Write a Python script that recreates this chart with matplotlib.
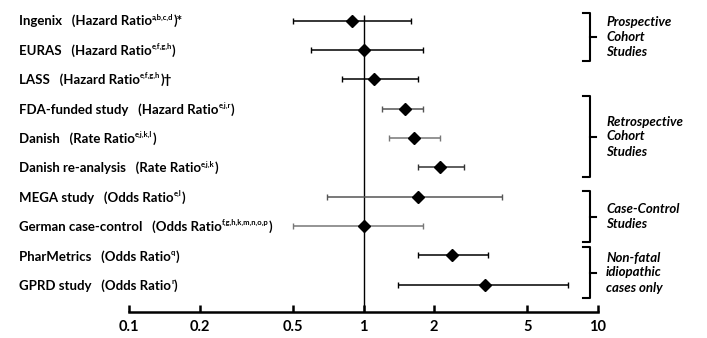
import matplotlib
matplotlib.use('Agg')
import matplotlib.pyplot as plt
from matplotlib.lines import Line2D

plt.rcParams['font.family'] = ['Lato', 'DejaVu Sans']

# study rows, top to bottom
names = ['Ingenix', 'EURAS', 'LASS', 'FDA-funded study', 'Danish',
         'Danish re-analysis', 'MEGA study', 'German case-control',
         'PharMetrics', 'GPRD study']
measures = ['Hazard Ratio', 'Hazard Ratio', 'Hazard Ratio', 'Hazard Ratio',
            'Rate Ratio', 'Rate Ratio', 'Odds Ratio', 'Odds Ratio',
            'Odds Ratio', 'Odds Ratio']
refs = ['a,b,c,d', 'e,f,g,h', 'e,f,g,h', 'e,j,r', 'e,j,k,l', 'e,j,k',
        'e,l', 'f,g,h,k,m,n,o,p', 'q', 'r']
tails = [')*', ')', ')\u2020', ')', ')', ')', ')', ')', ')', ')']

est = [0.89, 1.00, 1.11, 1.51, 1.65, 2.11, 1.70, 1.00, 2.39, 3.31]
lo = [0.50, 0.60, 0.81, 1.20, 1.28, 1.70, 0.70, 0.50, 1.71, 1.41]
hi = [1.60, 1.80, 1.71, 1.80, 2.11, 2.67, 3.91, 1.80, 3.38, 7.47]
bar_colors = ['black', 'black', 'black', '#555555', '#777777', '#333333',
              '#555555', '#777777', 'black', 'black']

ticks = [0.1, 0.2, 0.5, 1, 2, 5, 10]
tick_labels = ['0.1', '0.2', '0.5', '1', '2', '5', '10']

groups = ['Prospective\nCohort\nStudies', 'Retrospective\nCohort\nStudies',
          'Case-Control\nStudies', 'Non-fatal\nidiopathic\ncases only']

W, H = 707, 338
fig = plt.figure(figsize=(W / 100, H / 100), dpi=100)
ax = fig.add_axes([129 / W, 1 - 312 / H, (598 - 129) / W, (312 - 10) / H])

row_y = list(range(len(names)))
ax.set_xscale('log')
ax.set_xlim(0.1, 10)
ax.set_ylim(9.93, -0.37)

ax.vlines(1, -0.2, 9.93, color='black', lw=1.0, zorder=1)
for i in row_y:
    ax.errorbar(est[i], i, xerr=[[est[i] - lo[i]], [hi[i] - est[i]]],
                fmt='none', ecolor=bar_colors[i], elinewidth=1.1,
                capsize=2, capthick=1.0, zorder=2)
ax.plot(est, row_y, 'D', color='black', markersize=6.2, zorder=3)

for s in ['top', 'right', 'left']:
    ax.spines[s].set_visible(False)
ax.spines['bottom'].set_linewidth(1.8)
ax.set_yticks([])
ax.set_xticks(ticks)
ax.set_xticklabels(tick_labels, fontsize=10.5, fontweight='bold')
ax.xaxis.set_minor_locator(matplotlib.ticker.NullLocator())
ax.tick_params(axis='x', direction='in', length=5, width=1.8, pad=6)

# row labels with superscript references
fig.canvas.draw()
rend = fig.canvas.get_renderer()
for i in row_y:
    ypix = H - (21 + i * 29.4)
    x = 19
    t = fig.text(x / W, ypix / H, names[i] + '   (' + measures[i],
                 fontsize=9.5, fontweight='bold', va='center')
    x += t.get_window_extent(rend).width
    t = fig.text(x / W, (ypix + 4) / H, refs[i], fontsize=5.5,
                 fontweight='bold', va='center')
    x += t.get_window_extent(rend).width
    fig.text(x / W, ypix / H, tails[i], fontsize=9.5, fontweight='bold',
             va='center')

# brackets on the right
spans = [(13, 61), (96, 177), (191, 242), (247, 298)]
bx = 590
for (top, bot), g in zip(spans, groups):
    mid = (top + bot) / 2
    xs = [bx - 7, bx, bx, bx - 7]
    ys = [top, top, bot, bot]
    fig.add_artist(Line2D([v / W for v in xs], [1 - v / H for v in ys],
                          color='black', lw=1.5))
    fig.add_artist(Line2D([bx / W, (bx + 6) / W], [1 - mid / H] * 2,
                          color='black', lw=1.5))
    fig.text(606 / W, 1 - mid / H, g, fontsize=9.5, fontweight='bold',
             style='italic', va='center', ha='left', linespacing=1.3)

fig.savefig('out.png', dpi=100)
